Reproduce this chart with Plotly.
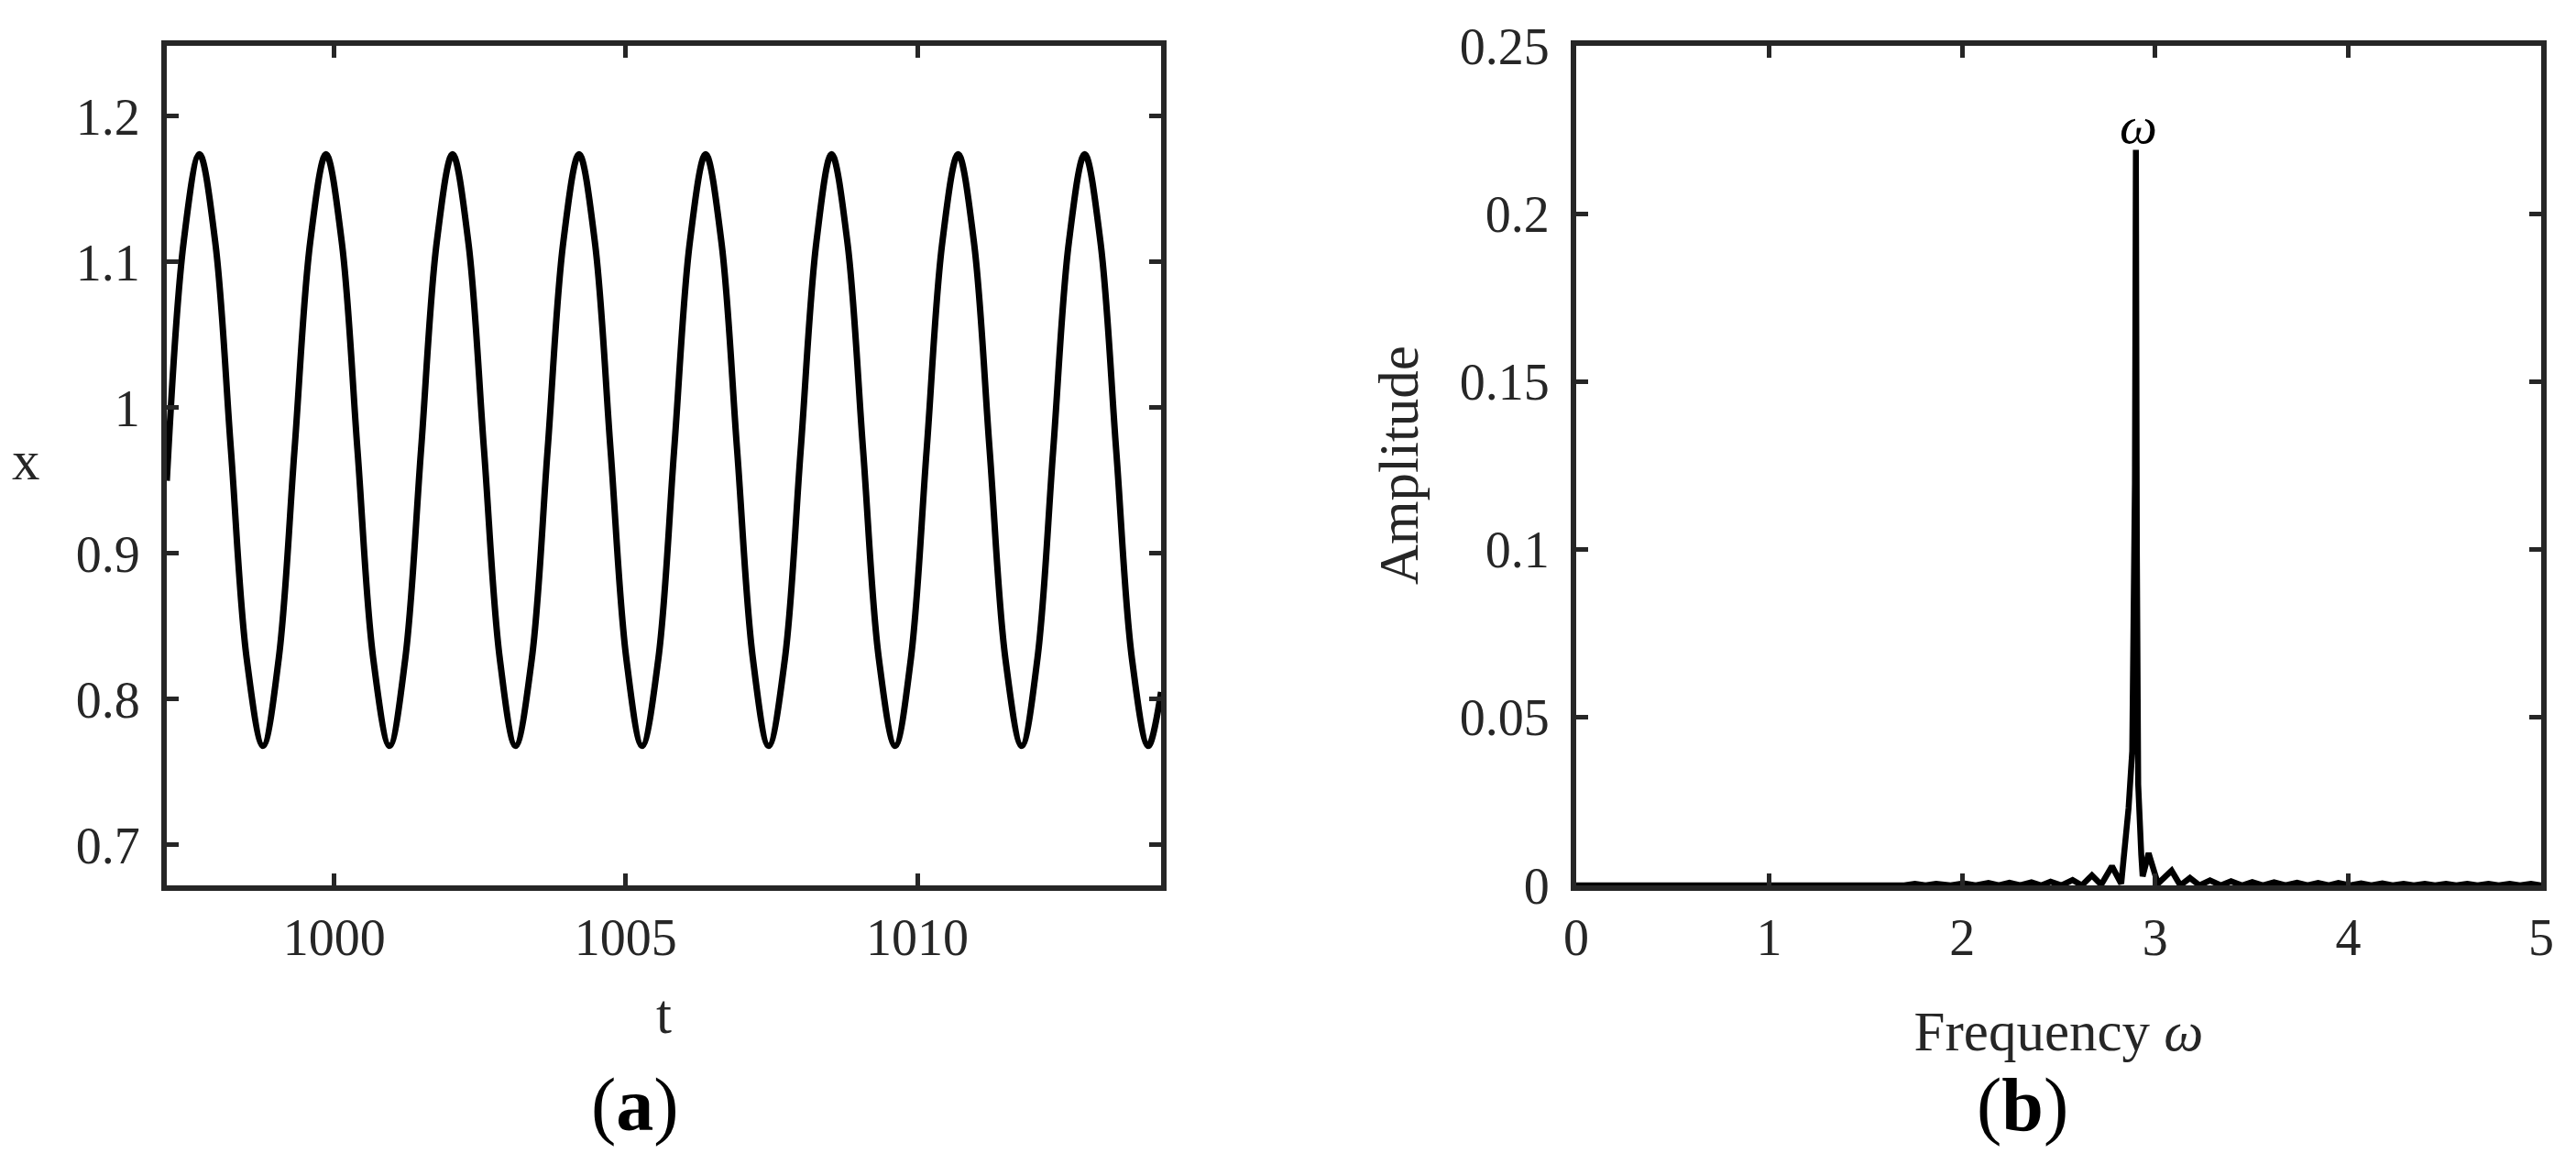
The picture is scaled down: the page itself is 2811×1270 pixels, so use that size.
import plotly.graph_objects as go

# ---------------- data: panel (a) time series ----------------
t_values = [997.13, 997.42,
            997.69, 997.96, 998.23, 998.50, 998.78, 999.05, 999.32, 999.59,
            999.86, 1000.13, 1000.40, 1000.67, 1000.95, 1001.22, 1001.49, 1001.76,
            1002.03, 1002.30, 1002.57, 1002.84, 1003.11, 1003.39, 1003.66, 1003.93,
            1004.20, 1004.47, 1004.74, 1005.01, 1005.28, 1005.56, 1005.83, 1006.10,
            1006.37, 1006.64, 1006.91, 1007.18, 1007.45, 1007.73, 1008.00, 1008.27,
            1008.53, 1008.80, 1009.07, 1009.34, 1009.62, 1009.89, 1010.16, 1010.43,
            1010.70, 1010.97, 1011.24, 1011.51, 1011.79, 1012.06, 1012.33, 1012.60,
            1012.87, 1013.14, 1013.41, 1013.68, 1013.96, 1014.18]
x_values = [0.950, 1.114,
            1.174, 1.114, 0.971, 0.828, 0.768, 0.828, 0.971, 1.114,
            1.174, 1.114, 0.971, 0.828, 0.768, 0.828, 0.971, 1.114,
            1.174, 1.114, 0.971, 0.828, 0.768, 0.828, 0.971, 1.114,
            1.174, 1.114, 0.971, 0.828, 0.768, 0.828, 0.971, 1.114,
            1.174, 1.114, 0.971, 0.828, 0.768, 0.828, 0.971, 1.114,
            1.174, 1.114, 0.971, 0.828, 0.768, 0.828, 0.971, 1.114,
            1.174, 1.114, 0.971, 0.828, 0.768, 0.828, 0.971, 1.114,
            1.174, 1.114, 0.971, 0.828, 0.768, 0.805]

# ---------------- data: panel (b) amplitude spectrum ----------------
freq_values = [0.00, 1.15, 1.205, 1.26, 1.315, 1.37, 1.425, 1.48, 1.535, 1.59,
               1.645, 1.70, 1.755, 1.81, 1.865, 1.94, 2.008, 2.07, 2.136, 2.19,
               2.245, 2.30, 2.359, 2.41, 2.458, 2.515, 2.572, 2.62, 2.672, 2.72,
               2.776, 2.824, 2.862, 2.881, 2.895, 2.900, 2.905, 2.912, 2.928, 2.935,
               2.966, 3.014, 3.085, 3.13, 3.180, 3.23, 3.284, 3.34, 3.393, 3.45,
               3.503, 3.56, 3.616, 3.675, 3.735, 3.79, 3.844, 3.90, 3.949, 4.01,
               4.067, 4.12, 4.177, 4.23, 4.287, 4.34, 4.397, 4.45, 4.507, 4.56,
               4.617, 4.67, 4.727, 4.78, 4.837, 4.89, 4.947, 5.00]
amp_values = [0.0, 0.0, 0.0002, 0.0, 0.0003, 0.0, 0.0003, 0.0, 0.0004, 0.0,
              0.0004, 0.0, 0.0005, 0.0, 0.0005, 0.0, 0.0006, 0.0, 0.0007, 0.0,
              0.0008, 0.0, 0.0009, 0.0, 0.0011, 0.0, 0.0016, 0.0, 0.0030, 0.0002,
              0.0057, 0.0005, 0.023, 0.040, 0.12, 0.219, 0.10, 0.030, 0.009, 0.0027,
              0.0096, 0.0005, 0.0044, 0.0, 0.0022, 0.0, 0.0015, 0.0, 0.0012, 0.0,
              0.0010, 0.0, 0.0009, 0.0, 0.0008, 0.0, 0.0007, 0.0, 0.0007, 0.0,
              0.0006, 0.0, 0.0006, 0.0, 0.0005, 0.0, 0.0005, 0.0, 0.0005, 0.0,
              0.0005, 0.0, 0.0005, 0.0, 0.0005, 0.0, 0.0005, 0.0]

# ---------------- ticks ----------------
a_xticks = [1000, 1005, 1010]
a_xticklabels = ["1000", "1005", "1010"]
a_yticks = [0.7, 0.8, 0.9, 1.0, 1.1, 1.2]
a_yticklabels = ["0.7", "0.8", "0.9", "1", "1.1", "1.2"]
b_xticks = [0, 1, 2, 3, 4, 5]
b_xticklabels = ["0", "1", "2", "3", "4", "5"]
b_yticks = [0, 0.05, 0.1, 0.15, 0.2, 0.25]
b_yticklabels = ["0", "0.05", "0.1", "0.15", "0.2", "0.25"]

FONT = "Liberation Serif"
AX = "#262626"
# page is 2811x1270; the default HTML body has an 8px margin
OFF = 8
FW, FH = 2811 - 2 * OFF, 1270 - 2 * OFF
TICK_SIZE = 56
TITLE_SIZE = 61


def px(x):
    return (x - OFF) / FW


def py(y):
    return (FH - (y - OFF)) / FH


fig = go.Figure()
fig.add_trace(go.Scatter(x=t_values, y=x_values, mode="lines",
                         line=dict(color="black", width=7, shape="spline", smoothing=1.0),
                         xaxis="x", yaxis="y", showlegend=False, hoverinfo="skip"))
fig.add_trace(go.Scatter(x=freq_values, y=amp_values, mode="lines",
                         line=dict(color="black", width=6.5),
                         xaxis="x2", yaxis="y2", showlegend=False, hoverinfo="skip"))


def axis_style(**kw):
    d = dict(showline=True, linecolor=AX, linewidth=6, mirror="ticks",
             ticks="inside", ticklen=13, tickwidth=5, tickcolor=AX,
             showgrid=False, zeroline=False, automargin=False,
             tickfont=dict(family=FONT, size=TICK_SIZE, color=AX))
    d.update(kw)
    return d


title_font = dict(family=FONT, size=TITLE_SIZE, color=AX)

fig.update_layout(
    template="none",
    width=FW, height=FH,
    margin=dict(l=0, r=0, t=0, b=0, pad=0),
    paper_bgcolor="white", plot_bgcolor="white",
    xaxis=axis_style(domain=[px(182), px(1267)], range=[997.13, 1014.18],
                     tickvals=a_xticks, ticktext=a_xticklabels, anchor="y",
                     ticklabelstandoff=3,
                     title=dict(text="t", font=title_font, standoff=33)),
    yaxis=axis_style(domain=[py(966), py(50)], range=[0.6723, 1.2484],
                     tickvals=a_yticks, ticktext=a_yticklabels, anchor="x",
                     ticklabelstandoff=12),
    xaxis2=axis_style(domain=[px(1720), px(2773)], range=[0, 5],
                      tickvals=b_xticks, ticktext=b_xticklabels, anchor="y2",
                      ticklabelstandoff=3,
                      title=dict(text="Frequency <i>ω</i>", font=title_font, standoff=52)),
    yaxis2=axis_style(domain=[py(966), py(50)], range=[0, 0.25],
                      tickvals=b_yticks, ticktext=b_yticklabels, anchor="x2",
                      ticklabelstandoff=12),
    annotations=[
        dict(text="x", x=px(28), y=py(502), xref="paper", yref="paper",
             showarrow=False, xanchor="center", yanchor="middle", font=title_font),
        dict(text="Amplitude", x=px(1526), y=py(508), xref="paper", yref="paper", textangle=-90,
             showarrow=False, xanchor="center", yanchor="middle", font=title_font),
        dict(text="<i>ω</i>", x=2.915, y=0.2265, xref="x2", yref="y2", showarrow=False,
             xanchor="center", yanchor="middle", font=dict(family=FONT, size=58, color="black")),
        dict(text="(<b>a</b>)", x=px(693), y=py(1205), xref="paper", yref="paper",
             showarrow=False, xanchor="center", yanchor="middle",
             font=dict(family=FONT, size=82, color="black")),
        dict(text="(<b>b</b>)", x=px(2207), y=py(1205), xref="paper", yref="paper",
             showarrow=False, xanchor="center", yanchor="middle",
             font=dict(family=FONT, size=82, color="black")),
    ],
)

fig.write_html("out.html")
